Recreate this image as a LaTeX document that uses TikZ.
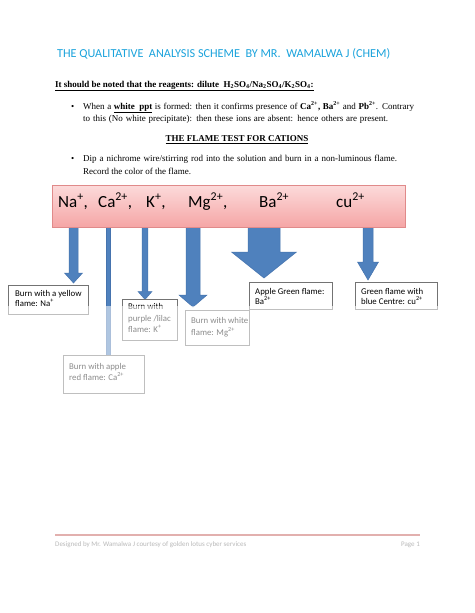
\documentclass[tikz,border=0pt]{standalone}
\usepackage{fontspec}
\setmainfont{Liberation Serif}
\newfontfamily\calfont{Carlito}
\definecolor{titleblue}{HTML}{1BA3DC}
\definecolor{arrfill}{HTML}{4F81BD}
\definecolor{arrline}{HTML}{4573AE}
\definecolor{pinktop}{HTML}{FCDADA}
\definecolor{pinkbot}{HTML}{F5A5A5}
\definecolor{pinkline}{HTML}{E08A8A}
\definecolor{footline}{HTML}{C0504D}
\newcommand{\blkarrow}[6]{%
  \filldraw[arrowshape] ({#1-#4},#2) -- ({#1+#4},#2) -- ({#1+#4},{#3-#6}) -- ({#1+#5},{#3-#6}) -- (#1,#3) -- ({#1-#5},{#3-#6}) -- ({#1-#4},{#3-#6}) -- cycle;}
\tikzset{
  arrowshape/.style={fill=arrfill, draw=arrline, line width=0.5pt},
  body/.style={font=\fontsize{9}{11}\selectfont, anchor=base west, inner sep=0pt},
  ion/.style={font=\calfont\fontsize{17}{20}\selectfont, anchor=base west, inner sep=0pt},
  boxtext/.style={font=\calfont\fontsize{8.8}{10}\selectfont, anchor=base west, inner sep=0pt},
  resbox/.style={draw=black!55, fill=white, line width=0.6pt, anchor=north west, inner sep=0pt},
}
\begin{document}
\begin{tikzpicture}[x=1pt,y=-1pt]
\useasboundingbox (0,0) rectangle (474,613);
\fill[white] (0,0) rectangle (474,613);

% title and text
\node[font=\calfont\fontsize{12.2}{14}\selectfont, text=titleblue, anchor=base west, inner sep=0pt] (title) at (57,57)
  {THE QUALITATIVE\ \ ANALYSIS SCHEME\ \ BY MR.\ \ WAMALWA J (CHEM)};
\node[body, font=\bfseries\fontsize{9}{11}\selectfont] (note) at (55,87)
  {\underline{It should be noted that the reagents: dilute\ \ H\textsubscript{2}SO\textsubscript{4}/Na\textsubscript{2}SO\textsubscript{4}/K\textsubscript{2}SO\textsubscript{4}:}};
\node[body] (b1) at (71,109) {\textbullet};
\node[body] (l1) at (83,109) {\makebox[331pt][s]{When a \textbf{\underline{white\ \ ppt}} is formed: then it confirms presence of \textbf{Ca\textsuperscript{2+}, Ba\textsuperscript{2+}} and \textbf{Pb\textsuperscript{2+}}. Contrary}};
\node[body] (l2) at (83,121.5) {\makebox[305pt][s]{to this (No white precipitate): then these ions are absent: hence others are present.}};
\node[body, font=\bfseries\fontsize{9}{11}\selectfont, anchor=base] (head) at (237,141.5) {\underline{THE FLAME TEST FOR CATIONS}};
\node[body] (b2) at (71,161.5) {\textbullet};
\node[body] (l3) at (83,161.5) {\makebox[314pt][s]{Dip a nichrome wire/stirring rod into the solution and burn in a non-luminous flame.}};
\node[body] (l4) at (83,174) {Record the color of the flame.};

% arrows
\blkarrow{73.5}{222}{283}{4.5}{9}{10}
\filldraw[arrowshape] (106,222) rectangle (110,356);
\blkarrow{145}{222}{299.5}{2.8}{7}{8}
\blkarrow{193}{222}{307}{7}{14}{12}
\blkarrow{264}{222}{278}{16}{32.5}{26}
\blkarrow{368}{222}{280}{5}{10.5}{18}

% pink ion box
\node[draw=pinkline, line width=0.7pt, top color=pinktop, bottom color=pinkbot, anchor=north west, minimum width=353pt, minimum height=42pt, inner sep=0pt] (ions) at (52,185) {};
\node[ion] (na) at (58,207) {Na\textsuperscript{+},};
\node[ion] (ca) at (98,207) {Ca\textsuperscript{2+},};
\node[ion] (k) at (146,207) {K\textsuperscript{+},};
\node[ion] (mg) at (188,207) {Mg\textsuperscript{2+},};
\node[ion] (ba) at (259,207) {Ba\textsuperscript{2+}};
\node[ion] (cu) at (336,207) {cu\textsuperscript{2+}};

% result boxes
\node[resbox, minimum width=80pt, minimum height=29pt] (nabox) at (8,285) {};
\node[boxtext] (nat1) at (15,296) {Burn with a yellow};
\node[boxtext] (nat2) at (15,306.5) {flame: Na\textsuperscript{+}};

\node[resbox, minimum width=83pt, minimum height=27pt] (babox) at (249,282) {};
\node[boxtext] (bat1) at (255,294) {Apple Green flame:};
\node[boxtext] (bat2) at (255,304.5) {Ba\textsuperscript{2+}};

\node[resbox, minimum width=82pt, minimum height=27pt] (cubox) at (355,282) {};
\node[boxtext] (cut1) at (361,294) {Green flame with};
\node[boxtext] (cut2) at (361,304.5) {blue Centre: cu\textsuperscript{2+}};

\node[resbox, minimum width=55pt, minimum height=41pt] (kbox) at (122,299) {};
\node[boxtext] (kt1) at (128,309) {Burn with};
\node[boxtext] (kt2) at (128,321) {purple /lilac};
\node[boxtext] (kt3) at (128,332) {flame: K\textsuperscript{+}};

\node[resbox, minimum width=64pt, minimum height=35pt] (mgbox) at (185,310) {};
\node[boxtext] (mgt1) at (191,323) {Burn with white};
\node[boxtext] (mgt2) at (191,335) {flame: Mg\textsuperscript{2+}};

\node[resbox, minimum width=81pt, minimum height=38pt] (cabox) at (63,355) {};
\node[boxtext] (cat1) at (69,369) {Burn with apple};
\node[boxtext] (cat2) at (69,380) {red flame: Ca\textsuperscript{2+}};

% footer
\draw[footline, line width=2pt] (55,535) coordinate (fl) -- (420,535) coordinate (fr);
\node[boxtext, font=\calfont\fontsize{7}{9}\selectfont, text=black!60] (foot) at (55,546) {Designed by Mr. Wamalwa J courtesy of golden lotus cyber services};
\node[boxtext, font=\calfont\fontsize{7}{9}\selectfont, text=black!60, anchor=base east] (page) at (420,546) {Page 1};

% faded lower part
\fill[white, opacity=0.55] (0,306) rectangle (474,613);
\end{tikzpicture}
\end{document}
